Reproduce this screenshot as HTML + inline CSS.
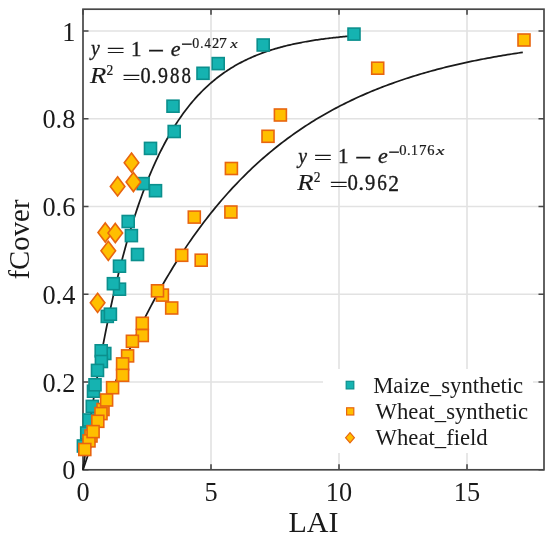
<!DOCTYPE html>
<html><head><meta charset="utf-8"><style>html,body{margin:0;padding:0;background:#fff;}svg{display:block;}</style></head><body>
<svg width="550" height="539" viewBox="0 0 550 539">
<rect width="550" height="539" fill="#fff"/>
<path d="M211.00,9.2 V469.8 M339.00,9.2 V469.8 M467.00,9.2 V469.8 M83,382.04 H544 M83,294.28 H544 M83,206.52 H544 M83,118.76 H544 M83,31.00 H544" stroke="#e2e2e2" stroke-width="1.6" fill="none"/>
<path d="M83.00,469.8 v-5.5 M83.00,9.2 v5.5 M211.00,469.8 v-5.5 M211.00,9.2 v5.5 M339.00,469.8 v-5.5 M339.00,9.2 v5.5 M467.00,469.8 v-5.5 M467.00,9.2 v5.5 M83,469.80 h5.5 M544,469.80 h-5.5 M83,382.04 h5.5 M544,382.04 h-5.5 M83,294.28 h5.5 M544,294.28 h-5.5 M83,206.52 h5.5 M544,206.52 h-5.5 M83,118.76 h5.5 M544,118.76 h-5.5 M83,31.00 h5.5 M544,31.00 h-5.5" stroke="#474747" stroke-width="1.6" fill="none"/>
<rect x="83" y="9.2" width="461" height="460.6" fill="none" stroke="#474747" stroke-width="1.7"/>
<path d="M83.00,469.80 L84.36,459.99 L85.71,450.40 L87.07,441.02 L88.42,431.86 L89.78,422.90 L91.13,414.13 L92.49,405.57 L93.84,397.20 L95.20,389.01 L96.56,381.00 L97.91,373.18 L99.27,365.53 L100.62,358.05 L101.98,350.74 L103.33,343.59 L104.69,336.60 L106.04,329.77 L107.40,323.09 L108.75,316.56 L110.11,310.18 L111.47,303.94 L112.82,297.84 L114.18,291.87 L115.53,286.04 L116.89,280.34 L118.24,274.76 L119.60,269.31 L120.95,263.98 L122.31,258.78 L123.67,253.68 L125.02,248.71 L126.38,243.84 L127.73,239.08 L129.09,234.43 L130.44,229.88 L131.80,225.43 L133.15,221.09 L134.51,216.84 L135.87,212.68 L137.22,208.62 L138.58,204.65 L139.93,200.77 L141.29,196.97 L142.64,193.26 L144.00,189.64 L145.35,186.09 L146.71,182.62 L148.06,179.23 L149.42,175.92 L150.78,172.68 L152.13,169.51 L153.49,166.41 L154.84,163.39 L156.20,160.43 L157.55,157.53 L158.91,154.71 L160.26,151.94 L161.62,149.24 L162.98,146.59 L164.33,144.01 L165.69,141.48 L167.04,139.01 L168.40,136.60 L169.75,134.24 L171.11,131.93 L172.46,129.67 L173.82,127.47 L175.18,125.31 L176.53,123.20 L177.89,121.14 L179.24,119.13 L180.60,117.16 L181.95,115.23 L183.31,113.35 L184.66,111.51 L186.02,109.71 L187.38,107.95 L188.73,106.23 L190.09,104.54 L191.44,102.90 L192.80,101.29 L194.15,99.72 L195.51,98.18 L196.86,96.68 L198.22,95.21 L199.57,93.78 L200.93,92.38 L202.29,91.00 L203.64,89.66 L205.00,88.35 L206.35,87.07 L207.71,85.81 L209.06,84.59 L210.42,83.39 L211.77,82.22 L213.13,81.07 L214.49,79.96 L215.84,78.86 L217.20,77.79 L218.55,76.74 L219.91,75.72 L221.26,74.72 L222.62,73.74 L223.97,72.79 L225.33,71.86 L226.69,70.94 L228.04,70.05 L229.40,69.18 L230.75,68.32 L232.11,67.49 L233.46,66.67 L234.82,65.87 L236.17,65.10 L237.53,64.33 L238.88,63.59 L240.24,62.86 L241.60,62.15 L242.95,61.45 L244.31,60.77 L245.66,60.10 L247.02,59.45 L248.37,58.82 L249.73,58.20 L251.08,57.59 L252.44,56.99 L253.80,56.41 L255.15,55.84 L256.51,55.29 L257.86,54.75 L259.22,54.21 L260.57,53.70 L261.93,53.19 L263.28,52.69 L264.64,52.21 L266.00,51.73 L267.35,51.27 L268.71,50.82 L270.06,50.37 L271.42,49.94 L272.77,49.52 L274.13,49.10 L275.48,48.70 L276.84,48.30 L278.19,47.92 L279.55,47.54 L280.91,47.17 L282.26,46.81 L283.62,46.45 L284.97,46.11 L286.33,45.77 L287.68,45.44 L289.04,45.12 L290.39,44.80 L291.75,44.49 L293.11,44.19 L294.46,43.90 L295.82,43.61 L297.17,43.33 L298.53,43.05 L299.88,42.78 L301.24,42.52 L302.59,42.26 L303.95,42.01 L305.31,41.76 L306.66,41.52 L308.02,41.29 L309.37,41.06 L310.73,40.83 L312.08,40.61 L313.44,40.40 L314.79,40.19 L316.15,39.98 L317.50,39.78 L318.86,39.58 L320.22,39.39 L321.57,39.21 L322.93,39.02 L324.28,38.84 L325.64,38.67 L326.99,38.50 L328.35,38.33 L329.70,38.16 L331.06,38.00 L332.42,37.85 L333.77,37.69 L335.13,37.54 L336.48,37.40 L337.84,37.26 L339.19,37.12 L340.55,36.98 L341.90,36.85 L343.26,36.71 L344.62,36.59 L345.97,36.46 L347.33,36.34 L348.68,36.22 L350.04,36.10 L351.39,35.99 L352.75,35.88 L354.10,35.77" fill="none" stroke="#1a1a1a" stroke-width="1.75"/>
<path d="M83.00,469.80 L85.20,463.22 L87.40,456.73 L89.60,450.34 L91.80,444.05 L94.00,437.85 L96.19,431.75 L98.39,425.74 L100.59,419.81 L102.79,413.98 L104.99,408.23 L107.19,402.57 L109.39,397.00 L111.59,391.50 L113.79,386.10 L115.99,380.77 L118.18,375.52 L120.38,370.35 L122.58,365.26 L124.78,360.24 L126.98,355.30 L129.18,350.44 L131.38,345.64 L133.58,340.92 L135.78,336.27 L137.98,331.69 L140.18,327.18 L142.37,322.74 L144.57,318.36 L146.77,314.05 L148.97,309.80 L151.17,305.62 L153.37,301.50 L155.57,297.44 L157.77,293.44 L159.97,289.50 L162.17,285.62 L164.36,281.80 L166.56,278.04 L168.76,274.33 L170.96,270.68 L173.16,267.08 L175.36,263.54 L177.56,260.05 L179.76,256.62 L181.96,253.23 L184.16,249.90 L186.35,246.61 L188.55,243.38 L190.75,240.19 L192.95,237.05 L195.15,233.96 L197.35,230.91 L199.55,227.91 L201.75,224.96 L203.95,222.05 L206.15,219.18 L208.35,216.36 L210.54,213.58 L212.74,210.84 L214.94,208.14 L217.14,205.48 L219.34,202.86 L221.54,200.29 L223.74,197.75 L225.94,195.24 L228.14,192.78 L230.34,190.35 L232.53,187.96 L234.73,185.61 L236.93,183.29 L239.13,181.00 L241.33,178.75 L243.53,176.53 L245.73,174.35 L247.93,172.20 L250.13,170.08 L252.33,167.99 L254.53,165.94 L256.72,163.91 L258.92,161.92 L261.12,159.95 L263.32,158.02 L265.52,156.11 L267.72,154.24 L269.92,152.39 L272.12,150.57 L274.32,148.77 L276.52,147.00 L278.71,145.26 L280.91,143.55 L283.11,141.86 L285.31,140.20 L287.51,138.56 L289.71,136.94 L291.91,135.35 L294.11,133.79 L296.31,132.25 L298.51,130.73 L300.70,129.23 L302.90,127.76 L305.10,126.31 L307.30,124.88 L309.50,123.47 L311.70,122.08 L313.90,120.71 L316.10,119.37 L318.30,118.04 L320.50,116.73 L322.70,115.45 L324.89,114.18 L327.09,112.93 L329.29,111.70 L331.49,110.49 L333.69,109.30 L335.89,108.13 L338.09,106.97 L340.29,105.83 L342.49,104.71 L344.69,103.60 L346.88,102.51 L349.08,101.44 L351.28,100.38 L353.48,99.34 L355.68,98.31 L357.88,97.30 L360.08,96.31 L362.28,95.33 L364.48,94.36 L366.68,93.41 L368.88,92.48 L371.07,91.55 L373.27,90.65 L375.47,89.75 L377.67,88.87 L379.87,88.00 L382.07,87.15 L384.27,86.30 L386.47,85.47 L388.67,84.66 L390.87,83.85 L393.06,83.06 L395.26,82.28 L397.46,81.51 L399.66,80.75 L401.86,80.00 L404.06,79.27 L406.26,78.54 L408.46,77.83 L410.66,77.13 L412.86,76.44 L415.06,75.75 L417.25,75.08 L419.45,74.42 L421.65,73.77 L423.85,73.13 L426.05,72.50 L428.25,71.87 L430.45,71.26 L432.65,70.66 L434.85,70.06 L437.05,69.47 L439.24,68.90 L441.44,68.33 L443.64,67.77 L445.84,67.22 L448.04,66.67 L450.24,66.14 L452.44,65.61 L454.64,65.09 L456.84,64.58 L459.04,64.08 L461.23,63.58 L463.43,63.09 L465.63,62.61 L467.83,62.13 L470.03,61.67 L472.23,61.21 L474.43,60.75 L476.63,60.31 L478.83,59.87 L481.03,59.43 L483.23,59.01 L485.42,58.59 L487.62,58.17 L489.82,57.77 L492.02,57.36 L494.22,56.97 L496.42,56.58 L498.62,56.20 L500.82,55.82 L503.02,55.45 L505.22,55.08 L507.41,54.72 L509.61,54.36 L511.81,54.01 L514.01,53.67 L516.21,53.33 L518.41,52.99 L520.61,52.66 L522.81,52.34" fill="none" stroke="#1a1a1a" stroke-width="1.75"/>
<rect x="348.00" y="28.10" width="12.0" height="12.0" fill="#15b3b1" stroke="#0b8f8d" stroke-width="1.6"/>
<rect x="257.20" y="39.00" width="12.0" height="12.0" fill="#15b3b1" stroke="#0b8f8d" stroke-width="1.6"/>
<rect x="212.20" y="57.60" width="12.0" height="12.0" fill="#15b3b1" stroke="#0b8f8d" stroke-width="1.6"/>
<rect x="197.00" y="67.30" width="12.0" height="12.0" fill="#15b3b1" stroke="#0b8f8d" stroke-width="1.6"/>
<rect x="167.00" y="100.20" width="12.0" height="12.0" fill="#15b3b1" stroke="#0b8f8d" stroke-width="1.6"/>
<rect x="168.20" y="125.50" width="12.0" height="12.0" fill="#15b3b1" stroke="#0b8f8d" stroke-width="1.6"/>
<rect x="144.50" y="142.40" width="12.0" height="12.0" fill="#15b3b1" stroke="#0b8f8d" stroke-width="1.6"/>
<rect x="137.10" y="177.60" width="12.0" height="12.0" fill="#15b3b1" stroke="#0b8f8d" stroke-width="1.6"/>
<rect x="149.50" y="184.70" width="12.0" height="12.0" fill="#15b3b1" stroke="#0b8f8d" stroke-width="1.6"/>
<rect x="122.20" y="215.50" width="12.0" height="12.0" fill="#15b3b1" stroke="#0b8f8d" stroke-width="1.6"/>
<rect x="125.40" y="229.60" width="12.0" height="12.0" fill="#15b3b1" stroke="#0b8f8d" stroke-width="1.6"/>
<rect x="131.50" y="248.50" width="12.0" height="12.0" fill="#15b3b1" stroke="#0b8f8d" stroke-width="1.6"/>
<rect x="113.50" y="260.20" width="12.0" height="12.0" fill="#15b3b1" stroke="#0b8f8d" stroke-width="1.6"/>
<rect x="113.50" y="283.20" width="12.0" height="12.0" fill="#15b3b1" stroke="#0b8f8d" stroke-width="1.6"/>
<rect x="107.40" y="277.70" width="12.0" height="12.0" fill="#15b3b1" stroke="#0b8f8d" stroke-width="1.6"/>
<rect x="101.30" y="310.40" width="12.0" height="12.0" fill="#15b3b1" stroke="#0b8f8d" stroke-width="1.6"/>
<rect x="104.40" y="308.20" width="12.0" height="12.0" fill="#15b3b1" stroke="#0b8f8d" stroke-width="1.6"/>
<rect x="98.80" y="347.50" width="12.0" height="12.0" fill="#15b3b1" stroke="#0b8f8d" stroke-width="1.6"/>
<rect x="95.20" y="344.80" width="12.0" height="12.0" fill="#15b3b1" stroke="#0b8f8d" stroke-width="1.6"/>
<rect x="95.40" y="355.50" width="12.0" height="12.0" fill="#15b3b1" stroke="#0b8f8d" stroke-width="1.6"/>
<rect x="91.50" y="364.40" width="12.0" height="12.0" fill="#15b3b1" stroke="#0b8f8d" stroke-width="1.6"/>
<rect x="87.50" y="385.20" width="12.0" height="12.0" fill="#15b3b1" stroke="#0b8f8d" stroke-width="1.6"/>
<rect x="89.00" y="378.80" width="12.0" height="12.0" fill="#15b3b1" stroke="#0b8f8d" stroke-width="1.6"/>
<rect x="86.30" y="400.40" width="12.0" height="12.0" fill="#15b3b1" stroke="#0b8f8d" stroke-width="1.6"/>
<rect x="83.20" y="414.00" width="12.0" height="12.0" fill="#15b3b1" stroke="#0b8f8d" stroke-width="1.6"/>
<rect x="80.70" y="427.00" width="12.0" height="12.0" fill="#15b3b1" stroke="#0b8f8d" stroke-width="1.6"/>
<rect x="77.40" y="440.00" width="12.0" height="12.0" fill="#15b3b1" stroke="#0b8f8d" stroke-width="1.6"/>
<rect x="518.00" y="34.00" width="12.0" height="12.0" fill="#ffbf00" stroke="#e8650f" stroke-width="1.6"/>
<rect x="371.70" y="62.20" width="12.0" height="12.0" fill="#ffbf00" stroke="#e8650f" stroke-width="1.6"/>
<rect x="274.40" y="109.00" width="12.0" height="12.0" fill="#ffbf00" stroke="#e8650f" stroke-width="1.6"/>
<rect x="262.00" y="130.30" width="12.0" height="12.0" fill="#ffbf00" stroke="#e8650f" stroke-width="1.6"/>
<rect x="225.40" y="162.50" width="12.0" height="12.0" fill="#ffbf00" stroke="#e8650f" stroke-width="1.6"/>
<rect x="224.90" y="206.00" width="12.0" height="12.0" fill="#ffbf00" stroke="#e8650f" stroke-width="1.6"/>
<rect x="188.30" y="211.10" width="12.0" height="12.0" fill="#ffbf00" stroke="#e8650f" stroke-width="1.6"/>
<rect x="175.70" y="249.30" width="12.0" height="12.0" fill="#ffbf00" stroke="#e8650f" stroke-width="1.6"/>
<rect x="195.20" y="254.20" width="12.0" height="12.0" fill="#ffbf00" stroke="#e8650f" stroke-width="1.6"/>
<rect x="156.40" y="289.10" width="12.0" height="12.0" fill="#ffbf00" stroke="#e8650f" stroke-width="1.6"/>
<rect x="151.50" y="284.80" width="12.0" height="12.0" fill="#ffbf00" stroke="#e8650f" stroke-width="1.6"/>
<rect x="165.70" y="302.00" width="12.0" height="12.0" fill="#ffbf00" stroke="#e8650f" stroke-width="1.6"/>
<rect x="136.30" y="329.50" width="12.0" height="12.0" fill="#ffbf00" stroke="#e8650f" stroke-width="1.6"/>
<rect x="136.30" y="317.30" width="12.0" height="12.0" fill="#ffbf00" stroke="#e8650f" stroke-width="1.6"/>
<rect x="126.40" y="335.30" width="12.0" height="12.0" fill="#ffbf00" stroke="#e8650f" stroke-width="1.6"/>
<rect x="121.60" y="349.90" width="12.0" height="12.0" fill="#ffbf00" stroke="#e8650f" stroke-width="1.6"/>
<rect x="116.60" y="357.90" width="12.0" height="12.0" fill="#ffbf00" stroke="#e8650f" stroke-width="1.6"/>
<rect x="116.60" y="369.30" width="12.0" height="12.0" fill="#ffbf00" stroke="#e8650f" stroke-width="1.6"/>
<rect x="106.60" y="381.70" width="12.0" height="12.0" fill="#ffbf00" stroke="#e8650f" stroke-width="1.6"/>
<rect x="97.00" y="403.50" width="12.0" height="12.0" fill="#ffbf00" stroke="#e8650f" stroke-width="1.6"/>
<rect x="100.60" y="394.00" width="12.0" height="12.0" fill="#ffbf00" stroke="#e8650f" stroke-width="1.6"/>
<rect x="95.00" y="407.60" width="12.0" height="12.0" fill="#ffbf00" stroke="#e8650f" stroke-width="1.6"/>
<rect x="91.80" y="415.30" width="12.0" height="12.0" fill="#ffbf00" stroke="#e8650f" stroke-width="1.6"/>
<rect x="85.00" y="430.00" width="12.0" height="12.0" fill="#ffbf00" stroke="#e8650f" stroke-width="1.6"/>
<rect x="83.00" y="434.90" width="12.0" height="12.0" fill="#ffbf00" stroke="#e8650f" stroke-width="1.6"/>
<rect x="87.10" y="425.60" width="12.0" height="12.0" fill="#ffbf00" stroke="#e8650f" stroke-width="1.6"/>
<rect x="78.80" y="443.50" width="12.0" height="12.0" fill="#ffbf00" stroke="#e8650f" stroke-width="1.6"/>
<path d="M131.50,153.10 L138.80,162.70 L131.50,172.30 L124.20,162.70 Z" fill="#ffbf00" stroke="#e8650f" stroke-width="1.6" stroke-linejoin="miter"/>
<path d="M133.40,172.40 L140.70,182.00 L133.40,191.60 L126.10,182.00 Z" fill="#ffbf00" stroke="#e8650f" stroke-width="1.6" stroke-linejoin="miter"/>
<path d="M117.60,176.80 L124.90,186.40 L117.60,196.00 L110.30,186.40 Z" fill="#ffbf00" stroke="#e8650f" stroke-width="1.6" stroke-linejoin="miter"/>
<path d="M105.30,222.90 L112.60,232.50 L105.30,242.10 L98.00,232.50 Z" fill="#ffbf00" stroke="#e8650f" stroke-width="1.6" stroke-linejoin="miter"/>
<path d="M115.30,223.40 L122.60,233.00 L115.30,242.60 L108.00,233.00 Z" fill="#ffbf00" stroke="#e8650f" stroke-width="1.6" stroke-linejoin="miter"/>
<path d="M108.30,241.20 L115.60,250.80 L108.30,260.40 L101.00,250.80 Z" fill="#ffbf00" stroke="#e8650f" stroke-width="1.6" stroke-linejoin="miter"/>
<path d="M97.60,293.20 L104.90,302.80 L97.60,312.40 L90.30,302.80 Z" fill="#ffbf00" stroke="#e8650f" stroke-width="1.6" stroke-linejoin="miter"/>
<rect x="323" y="369" width="210" height="84" fill="#fff"/>
<text x="75.3" y="479.40" font-family="Liberation Serif, serif" font-size="26.3" text-anchor="end" fill="#1a1a1a">0</text>
<text x="75.3" y="391.64" font-family="Liberation Serif, serif" font-size="26.3" text-anchor="end" fill="#1a1a1a">0.2</text>
<text x="75.3" y="303.88" font-family="Liberation Serif, serif" font-size="26.3" text-anchor="end" fill="#1a1a1a">0.4</text>
<text x="75.3" y="216.12" font-family="Liberation Serif, serif" font-size="26.3" text-anchor="end" fill="#1a1a1a">0.6</text>
<text x="75.3" y="128.36" font-family="Liberation Serif, serif" font-size="26.3" text-anchor="end" fill="#1a1a1a">0.8</text>
<text x="75.3" y="40.60" font-family="Liberation Serif, serif" font-size="26.3" text-anchor="end" fill="#1a1a1a">1</text>
<text x="83.00" y="500.6" font-family="Liberation Serif, serif" font-size="26.3" text-anchor="middle" fill="#1a1a1a">0</text>
<text x="211.00" y="500.6" font-family="Liberation Serif, serif" font-size="26.3" text-anchor="middle" fill="#1a1a1a">5</text>
<text x="339.00" y="500.6" font-family="Liberation Serif, serif" font-size="26.3" text-anchor="middle" fill="#1a1a1a">10</text>
<text x="467.00" y="500.6" font-family="Liberation Serif, serif" font-size="26.3" text-anchor="middle" fill="#1a1a1a">15</text>
<text x="313.5" y="531.6" font-family="Liberation Serif, serif" font-size="30" text-anchor="middle" fill="#1a1a1a">LAI</text>
<text transform="translate(28.6,239.5) rotate(-90)" font-family="Liberation Serif, serif" font-size="28.8" text-anchor="middle" fill="#1a1a1a">fCover</text>
<text transform="translate(91.10,55.47) scale(0.1970,0.2030)" font-family="Liberation Serif, serif" font-size="100" font-style="italic" fill="#1a1a1a" stroke="#1a1a1a" stroke-width="1.6">y</text>
<text transform="translate(106.53,56.88) scale(0.3245,0.1800)" font-family="Liberation Serif, serif" font-size="100" fill="#1a1a1a" stroke="#1a1a1a" stroke-width="1.6">=</text>
<text transform="translate(130.90,56.35) scale(0.2102,0.2121)" font-family="Liberation Serif, serif" font-size="100" fill="#1a1a1a" stroke="#1a1a1a" stroke-width="1.6">1</text>
<text transform="translate(148.04,60.13) scale(0.2923,0.2811)" font-family="Liberation Serif, serif" font-size="100" fill="#1a1a1a" stroke="#1a1a1a" stroke-width="1.6">&#8722;</text>
<text transform="translate(170.77,56.34) scale(0.2202,0.2162)" font-family="Liberation Serif, serif" font-size="100" font-style="italic" fill="#1a1a1a" stroke="#1a1a1a" stroke-width="1.6">e</text>
<text transform="translate(181.20,52.40) scale(0.1999,0.2409)" font-family="Liberation Serif, serif" font-size="100" fill="#1a1a1a" stroke="#1a1a1a" stroke-width="1.6">&#8722;</text>
<text transform="translate(89.99,83.25) scale(0.2668,0.2291)" font-family="Liberation Serif, serif" font-size="100" font-style="italic" fill="#1a1a1a" stroke="#1a1a1a" stroke-width="0.6">R</text>
<text transform="translate(106.56,75.25) scale(0.1347,0.1435)" font-family="Liberation Serif, serif" font-size="100" fill="#1a1a1a" stroke="#1a1a1a" stroke-width="1.6">2</text>
<text transform="translate(122.32,84.24) scale(0.3266,0.1880)" font-family="Liberation Serif, serif" font-size="100" fill="#1a1a1a" stroke="#1a1a1a" stroke-width="1.6">=</text>
<text transform="translate(192.32,48.21) scale(0.1392,0.1423)" font-family="Liberation Serif, serif" font-size="100" fill="#1a1a1a" stroke="#1a1a1a" stroke-width="1.6">0</text>
<text transform="translate(200.21,48.36) scale(0.1269,0.1354)" font-family="Liberation Serif, serif" font-size="100" fill="#1a1a1a" stroke="#1a1a1a" stroke-width="1.6">.</text>
<text transform="translate(204.60,48.35) scale(0.1269,0.1459)" font-family="Liberation Serif, serif" font-size="100" fill="#1a1a1a" stroke="#1a1a1a" stroke-width="1.6">4</text>
<text transform="translate(211.91,48.35) scale(0.1447,0.1450)" font-family="Liberation Serif, serif" font-size="100" fill="#1a1a1a" stroke="#1a1a1a" stroke-width="1.6">2</text>
<text transform="translate(219.11,48.35) scale(0.1579,0.1466)" font-family="Liberation Serif, serif" font-size="100" fill="#1a1a1a" stroke="#1a1a1a" stroke-width="1.6">7</text>
<text transform="translate(230.15,48.35) scale(0.1671,0.1264)" font-family="Liberation Serif, serif" font-size="100" font-style="italic" fill="#1a1a1a" stroke="#1a1a1a" stroke-width="1.6">x</text>
<text transform="translate(140.48,83.23) scale(0.2029,0.2208)" font-family="Liberation Serif, serif" font-size="100" fill="#1a1a1a" stroke="#1a1a1a" stroke-width="1.6">0</text>
<text transform="translate(151.36,83.15) scale(0.2116,0.2116)" font-family="Liberation Serif, serif" font-size="100" fill="#1a1a1a" stroke="#1a1a1a" stroke-width="1.6">.</text>
<text transform="translate(158.11,83.23) scale(0.1992,0.2218)" font-family="Liberation Serif, serif" font-size="100" fill="#1a1a1a" stroke="#1a1a1a" stroke-width="1.6">9</text>
<text transform="translate(170.03,83.23) scale(0.1888,0.2208)" font-family="Liberation Serif, serif" font-size="100" fill="#1a1a1a" stroke="#1a1a1a" stroke-width="1.6">8</text>
<text transform="translate(181.43,83.23) scale(0.1888,0.2208)" font-family="Liberation Serif, serif" font-size="100" fill="#1a1a1a" stroke="#1a1a1a" stroke-width="1.6">8</text>
<text transform="translate(298.30,162.57) scale(0.1970,0.2030)" font-family="Liberation Serif, serif" font-size="100" font-style="italic" fill="#1a1a1a" stroke="#1a1a1a" stroke-width="1.6">y</text>
<text transform="translate(313.73,163.98) scale(0.3245,0.1800)" font-family="Liberation Serif, serif" font-size="100" fill="#1a1a1a" stroke="#1a1a1a" stroke-width="1.6">=</text>
<text transform="translate(338.10,163.45) scale(0.2102,0.2121)" font-family="Liberation Serif, serif" font-size="100" fill="#1a1a1a" stroke="#1a1a1a" stroke-width="1.6">1</text>
<text transform="translate(355.24,167.23) scale(0.2923,0.2811)" font-family="Liberation Serif, serif" font-size="100" fill="#1a1a1a" stroke="#1a1a1a" stroke-width="1.6">&#8722;</text>
<text transform="translate(377.97,163.44) scale(0.2202,0.2162)" font-family="Liberation Serif, serif" font-size="100" font-style="italic" fill="#1a1a1a" stroke="#1a1a1a" stroke-width="1.6">e</text>
<text transform="translate(388.40,159.50) scale(0.1999,0.2409)" font-family="Liberation Serif, serif" font-size="100" fill="#1a1a1a" stroke="#1a1a1a" stroke-width="1.6">&#8722;</text>
<text transform="translate(297.19,190.35) scale(0.2668,0.2291)" font-family="Liberation Serif, serif" font-size="100" font-style="italic" fill="#1a1a1a" stroke="#1a1a1a" stroke-width="0.6">R</text>
<text transform="translate(313.76,182.35) scale(0.1347,0.1435)" font-family="Liberation Serif, serif" font-size="100" fill="#1a1a1a" stroke="#1a1a1a" stroke-width="1.6">2</text>
<text transform="translate(329.52,191.34) scale(0.3266,0.1880)" font-family="Liberation Serif, serif" font-size="100" fill="#1a1a1a" stroke="#1a1a1a" stroke-width="1.6">=</text>
<text transform="translate(399.29,155.31) scale(0.1463,0.1423)" font-family="Liberation Serif, serif" font-size="100" fill="#1a1a1a" stroke="#1a1a1a" stroke-width="1.6">0</text>
<text transform="translate(407.10,155.46) scale(0.1439,0.1354)" font-family="Liberation Serif, serif" font-size="100" fill="#1a1a1a" stroke="#1a1a1a" stroke-width="1.6">.</text>
<text transform="translate(411.03,155.45) scale(0.1392,0.1454)" font-family="Liberation Serif, serif" font-size="100" fill="#1a1a1a" stroke="#1a1a1a" stroke-width="1.6">1</text>
<text transform="translate(419.06,155.45) scale(0.1505,0.1466)" font-family="Liberation Serif, serif" font-size="100" fill="#1a1a1a" stroke="#1a1a1a" stroke-width="1.6">7</text>
<text transform="translate(427.33,155.31) scale(0.1451,0.1429)" font-family="Liberation Serif, serif" font-size="100" fill="#1a1a1a" stroke="#1a1a1a" stroke-width="1.6">6</text>
<text transform="translate(436.08,155.45) scale(0.1917,0.1264)" font-family="Liberation Serif, serif" font-size="100" font-style="italic" fill="#1a1a1a" stroke="#1a1a1a" stroke-width="1.6">x</text>
<text transform="translate(347.46,190.33) scale(0.2076,0.2208)" font-family="Liberation Serif, serif" font-size="100" fill="#1a1a1a" stroke="#1a1a1a" stroke-width="1.6">0</text>
<text transform="translate(358.19,190.25) scale(0.2370,0.2116)" font-family="Liberation Serif, serif" font-size="100" fill="#1a1a1a" stroke="#1a1a1a" stroke-width="1.6">.</text>
<text transform="translate(365.09,190.33) scale(0.2062,0.2218)" font-family="Liberation Serif, serif" font-size="100" fill="#1a1a1a" stroke="#1a1a1a" stroke-width="1.6">9</text>
<text transform="translate(377.23,190.33) scale(0.1919,0.2218)" font-family="Liberation Serif, serif" font-size="100" fill="#1a1a1a" stroke="#1a1a1a" stroke-width="1.6">6</text>
<text transform="translate(388.21,190.55) scale(0.2145,0.2250)" font-family="Liberation Serif, serif" font-size="100" fill="#1a1a1a" stroke="#1a1a1a" stroke-width="1.6">2</text>
<rect x="346.2" y="381.3" width="7.6" height="7.6" fill="#15b3b1" stroke="#0b8f8d" stroke-width="1.2"/>
<rect x="346.59999999999997" y="407.79999999999995" width="7.2" height="7.2" fill="#ffbf00" stroke="#e8650f" stroke-width="1.2"/>
<path d="M350,432.6 L354.4,437.7 L350,442.8 L345.6,437.7 Z" fill="#ffbf00" stroke="#e8650f" stroke-width="1.2"/>
<text x="373.2" y="393.0" font-family="Liberation Serif, serif" font-size="22.7" fill="#1a1a1a">Maize_synthetic</text>
<text x="375.6" y="419.0" font-family="Liberation Serif, serif" font-size="22.7" fill="#1a1a1a">Wheat_synthetic</text>
<text x="375.6" y="445.0" font-family="Liberation Serif, serif" font-size="22.7" fill="#1a1a1a">Wheat_field</text>
</svg>
</body></html>
